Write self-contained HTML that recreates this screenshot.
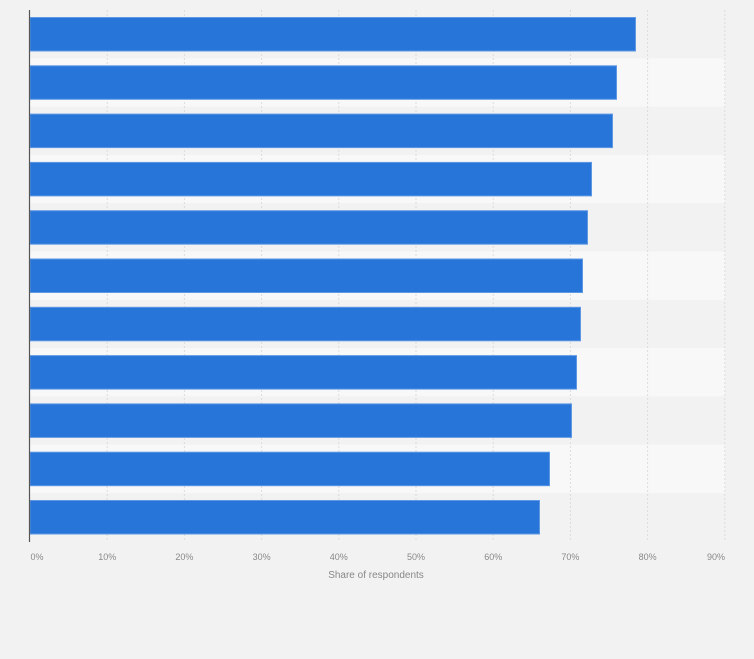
<!DOCTYPE html>
<html><head><style>
html,body{margin:0;padding:0;background:#f2f2f2;}
svg{display:block;font-family:"Liberation Sans",sans-serif;}
</style></head><body>
<svg width="754" height="659" viewBox="0 0 754 659">
<rect width="754" height="659" fill="#f2f2f2"/>
<g fill="#f8f8f8">
<rect x="30" y="58.3" width="695" height="48.3"/>
<rect x="30" y="154.9" width="695" height="48.3"/>
<rect x="30" y="251.5" width="695" height="48.3"/>
<rect x="30" y="348.1" width="695" height="48.3"/>
<rect x="30" y="444.7" width="695" height="48.3"/>
</g>
<g stroke="#dcdcdc" stroke-width="1" stroke-dasharray="2,2">
<line x1="107.2" y1="10" x2="107.2" y2="542"/>
<line x1="184.4" y1="10" x2="184.4" y2="542"/>
<line x1="261.6" y1="10" x2="261.6" y2="542"/>
<line x1="338.8" y1="10" x2="338.8" y2="542"/>
<line x1="416" y1="10" x2="416" y2="542"/>
<line x1="493.2" y1="10" x2="493.2" y2="542"/>
<line x1="570.4" y1="10" x2="570.4" y2="542"/>
<line x1="647.6" y1="10" x2="647.6" y2="542"/>
<line x1="724.8" y1="10" x2="724.8" y2="542"/>
</g>
<g fill="#2775d9" stroke="#5e98e3" stroke-width="1">
<rect x="30" y="17.5" width="605.5" height="33.5"/>
<rect x="30" y="65.8" width="586.5" height="33.5"/>
<rect x="30" y="114.1" width="582.5" height="33.5"/>
<rect x="30" y="162.4" width="561.5" height="33.5"/>
<rect x="30" y="210.7" width="557.5" height="33.5"/>
<rect x="30" y="259" width="552.5" height="33.5"/>
<rect x="30" y="307.3" width="550.5" height="33.5"/>
<rect x="30" y="355.6" width="546.5" height="33.5"/>
<rect x="30" y="403.9" width="541.5" height="33.5"/>
<rect x="30" y="452.2" width="519.5" height="33.5"/>
<rect x="30" y="500.5" width="509.5" height="33.5"/>
</g>
<line x1="29.5" y1="10" x2="29.5" y2="542" stroke="#555" stroke-width="1.2"/>
<g fill="#888" font-size="9" text-anchor="middle">
<text x="37" y="560">0%</text>
<text x="107.2" y="560">10%</text>
<text x="184.4" y="560">20%</text>
<text x="261.6" y="560">30%</text>
<text x="338.8" y="560">40%</text>
<text x="416" y="560">50%</text>
<text x="493.2" y="560">60%</text>
<text x="570.4" y="560">70%</text>
<text x="647.6" y="560">80%</text>
<text x="716" y="560">90%</text>
</g>
<text x="376" y="578" fill="#888" font-size="10" text-anchor="middle">Share of respondents</text>
</svg>
</body></html>
